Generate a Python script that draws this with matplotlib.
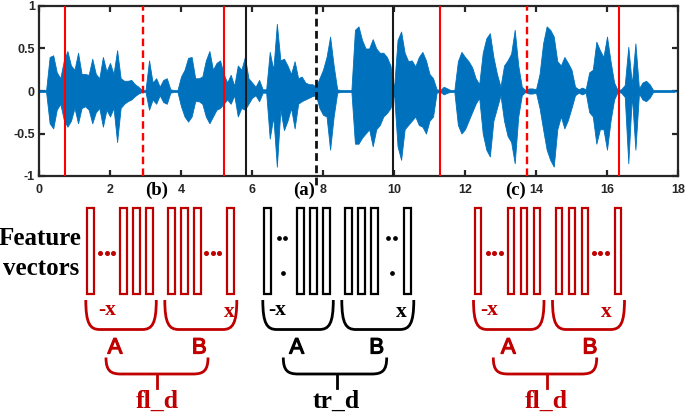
import numpy as np
import matplotlib
matplotlib.use("Agg")
import matplotlib.pyplot as plt
import matplotlib.patheffects as pe
from matplotlib.patches import Rectangle, PathPatch
from matplotlib.path import Path

plt.rcParams['axes.unicode_minus'] = False

# ---------------- data ----------------
# waveform envelope, one value every 0.1 s starting at 0.0 s
env_top = [0.01, 0.01, 0.01, 0.40, 0.42, 0.22, 0.15, 0.36, 0.47, 0.30,
           0.25, 0.45, 0.20, 0.20, 0.19, 0.38, 0.20, 0.15, 0.40, 0.23,
           0.33, 0.20, 0.48, 0.15, 0.12, 0.12, 0.13, 0.08, 0.05, 0.01,
           0.01, 0.36, 0.10, 0.15, 0.05, 0.13, 0.15, 0.02, 0.01, 0.01,
           0.17, 0.25, 0.39, 0.40, 0.15, 0.15, 0.17, 0.36, 0.47, 0.25,
           0.33, 0.36, 0.20, 0.10, 0.19, 0.06, 0.30, 0.25, 0.40, 0.15,
           0.10, 0.05, 0.13, 0.02, 0.02, 0.46, 0.25, 0.79, 0.36, 0.38,
           0.30, 0.20, 0.35, 0.15, 0.17, 0.10, 0.08, 0.08, 0.05, 0.15,
           0.25, 0.40, 0.64, 0.30, 0.02, 0.01, 0.01, 0.01, 0.01, 0.72,
           0.76, 0.60, 0.50, 0.50, 0.61, 0.50, 0.45, 0.45, 0.40, 0.30,
           0.03, 0.60, 0.70, 0.45, 0.35, 0.36, 0.29, 0.40, 0.46, 0.36,
           0.20, 0.15, 0.02, 0.01, 0.05, 0.03, 0.01, 0.01, 0.35, 0.46,
           0.40, 0.35, 0.28, 0.15, 0.08, 0.45, 0.62, 0.68, 0.40, 0.20,
           0.05, 0.30, 0.36, 0.44, 0.72, 0.30, 0.05, 0.01, 0.03, 0.03,
           0.02, 0.20, 0.56, 0.76, 0.72, 0.64, 0.35, 0.30, 0.40, 0.33,
           0.25, 0.05, 0.02, 0.04, 0.02, 0.22, 0.25, 0.58, 0.48, 0.40,
           0.64, 0.35, 0.10, 0.01, 0.02, 0.07, 0.52, 0.08, 0.56, 0.03,
           0.10, 0.12, 0.08, 0.01, 0.01, 0.01, 0.01, 0.01, 0.01, 0.01]
env_bot = [0.01, 0.01, 0.01, 0.38, 0.44, 0.22, 0.15, 0.34, 0.42, 0.35,
           0.20, 0.38, 0.20, 0.18, 0.22, 0.38, 0.25, 0.20, 0.42, 0.22,
           0.30, 0.20, 0.60, 0.20, 0.15, 0.12, 0.10, 0.06, 0.03, 0.01,
           0.01, 0.22, 0.10, 0.15, 0.05, 0.13, 0.15, 0.02, 0.01, 0.01,
           0.18, 0.30, 0.36, 0.30, 0.12, 0.12, 0.15, 0.30, 0.38, 0.30,
           0.22, 0.20, 0.15, 0.10, 0.15, 0.05, 0.30, 0.20, 0.22, 0.15,
           0.08, 0.05, 0.12, 0.02, 0.02, 0.56, 0.30, 0.89, 0.22, 0.46,
           0.35, 0.20, 0.44, 0.15, 0.12, 0.10, 0.08, 0.06, 0.05, 0.20,
           0.28, 0.30, 0.69, 0.30, 0.02, 0.01, 0.01, 0.01, 0.01, 0.62,
           0.62, 0.55, 0.50, 0.45, 0.65, 0.45, 0.40, 0.30, 0.26, 0.20,
           0.03, 0.65, 0.81, 0.45, 0.40, 0.35, 0.30, 0.40, 0.42, 0.50,
           0.35, 0.30, 0.02, 0.01, 0.04, 0.02, 0.01, 0.01, 0.40, 0.50,
           0.45, 0.35, 0.25, 0.15, 0.08, 0.50, 0.69, 0.77, 0.35, 0.20,
           0.05, 0.35, 0.53, 0.60, 0.85, 0.30, 0.05, 0.01, 0.03, 0.03,
           0.02, 0.20, 0.45, 0.69, 0.81, 0.89, 0.45, 0.30, 0.44, 0.34,
           0.20, 0.05, 0.02, 0.04, 0.02, 0.25, 0.30, 0.62, 0.45, 0.45,
           0.69, 0.35, 0.10, 0.01, 0.02, 0.07, 0.85, 0.05, 0.69, 0.03,
           0.10, 0.12, 0.08, 0.01, 0.01, 0.01, 0.01, 0.01, 0.01, 0.01]
sample_step = 0.1

# segment boundaries (seconds)
red_solid = [0.72, 5.22, 11.30, 16.33]
red_dashed = [2.92, 13.75]
black_solid = [5.84, 9.98]
black_dashed = [7.80]

xticks = [0, 2, 4, 6, 8, 10, 12, 14, 16, 18]
yticks = [-1, -0.5, 0, 0.5, 1]
ytick_labels = ['-1', '-0.5', '0', '0.5', '1']

# ---------------- figure ----------------
W, H = 685, 417
fig = plt.figure(figsize=(W / 100, H / 100), dpi=100)
ax = fig.add_axes([39 / W, 1 - 176 / H, (678 - 39) / W, (176 - 6) / H])

t = np.arange(len(env_top)) * sample_step
top = np.array(env_top)
bot = -np.array(env_bot)
blue = '#0072BD'
ax.fill_between(t, bot, top, color=blue, lw=0.6, edgecolor=blue, zorder=2)
ax.axhline(0, color=blue, lw=1.0, zorder=2)

for x in red_solid:
    ax.axvline(x, color='#FF0000', lw=1.5, zorder=3)
for x in red_dashed:
    ax.axvline(x, color='#FF0000', lw=1.7, ls=(0, (3.2, 1.8)), zorder=3)
for x in black_solid:
    ax.axvline(x, color='#1a1a1a', lw=1.5, zorder=3)
for x in black_dashed:
    ax.plot([x, x], [1, -1.1], color='#111111', lw=2.0, ls=(0, (2.8, 1.6)),
            zorder=3, clip_on=False)

ax.set_xlim(0, 18)
ax.set_ylim(-1, 1)
ax.set_xticks(xticks)
ax.set_xticklabels([str(v) for v in xticks])
ax.set_yticks(yticks)
ax.set_yticklabels(ytick_labels)
ax.tick_params(direction='in', length=4, width=1.6, top=True, right=True,
               colors='#262626', labelsize=9)
ax.tick_params(axis='x', pad=5.5)
ax.tick_params(axis='y', pad=3)
for lab in ax.get_xticklabels() + ax.get_yticklabels():
    lab.set_fontweight('bold')
    lab.set_fontfamily('Liberation Sans')
for s in ax.spines.values():
    s.set_linewidth(1.6)
    s.set_color('#262626')

# ---------------- diagram overlay (pixel coordinates) ----------------
ov = fig.add_axes([0, 0, 1, 1], zorder=5)
ov.set_xlim(0, W)
ov.set_ylim(H, 0)
ov.axis('off')
ov.patch.set_alpha(0)

RED = '#C00000'
BLK = '#000000'
serif = 'Liberation Serif'

rect_offsets = [0, 33, 46, 59, 81, 94, 107, 140]
groups = [
    dict(x0=86.3, c=RED, mx=107.5, px=229.5, A=115.0, B=199.3, b2=(106, 208), stem=157.0, lab='fl_d', dots='h'),
    dict(x0=263.3, c=BLK, mx=277.5, px=401.7, A=296.7, B=376.7, b2=(283.3, 386.7), stem=336.7, lab='tr_d', dots='v'),
    dict(x0=474.0, c=RED, mx=489.0, px=606.0, A=508.3, B=590.0, b2=(493.3, 596.7), stem=546.7, lab='fl_d', dots='h'),
]


def bracket(x0, x1, ytop, ybot, r, color, lw):
    h = ybot - ytop
    verts = [(x0, ytop), (x0, ytop + 0.8 * h), (x0 + 0.3 * r, ybot), (x0 + r, ybot),
             (x1 - r, ybot),
             (x1 - 0.3 * r, ybot), (x1, ytop + 0.8 * h), (x1, ytop)]
    codes = [Path.MOVETO, Path.CURVE4, Path.CURVE4, Path.CURVE4, Path.LINETO,
             Path.CURVE4, Path.CURVE4, Path.CURVE4]
    ov.add_patch(PathPatch(Path(verts, codes), fill=False, ec=color, lw=lw,
                           capstyle='butt'))


for g in groups:
    x0, c = g['x0'], g['c']
    thick = [pe.withStroke(linewidth=0.9, foreground=c)]
    for off in rect_offsets:
        ov.add_patch(Rectangle((x0 + off + 1, 207.5), 6.3, 86.5, fill=False,
                               ec=c, lw=1.6))
    if g['dots'] == 'h':
        ov.plot([x0 + 14, x0 + 20.5, x0 + 27], [252.7] * 3, 'o', ms=2.6, color=c, mec=c)
        ov.plot([x0 + 120, x0 + 126.5, x0 + 133], [252.7] * 3, 'o', ms=2.6, color=c, mec=c)
    else:
        ov.plot([x0 + 16, x0 + 21.7], [237.7] * 2, 'o', ms=2.4, color=c, mec=c)
        ov.plot([x0 + 20], [273.3], 'o', ms=2.4, color=c, mec=c)
        ov.plot([x0 + 124.4, x0 + 131.7], [237.7] * 2, 'o', ms=2.4, color=c, mec=c)
        ov.plot([x0 + 128.4], [273.3], 'o', ms=2.4, color=c, mec=c)
    bracket(x0 - 0.5, x0 + 70, 300, 329.5, 14, c, 2.0)
    bracket(x0 + 78.5, x0 + 150.5, 300, 329.5, 14, c, 2.0)
    ov.text(g['mx'], 315, '-x', color=c, fontsize=15.5, fontweight='bold',
            family=serif, ha='center', va='baseline')
    ov.text(g['px'], 317, 'x', color=c, fontsize=15.5, fontweight='bold',
            family=serif, ha='center', va='baseline')
    ov.text(g['A'], 353.5, 'A', color=c, fontsize=16, family='Liberation Sans',
            ha='center', va='baseline', path_effects=thick)
    ov.text(g['B'], 353.5, 'B', color=c, fontsize=16, family='Liberation Sans',
            ha='center', va='baseline', path_effects=thick)
    bracket(g['b2'][0], g['b2'][1], 357.5, 374, 15, c, 2.0)
    ov.plot([g['stem'], g['stem']], [374, 388], color=c, lw=2.0)
    ov.text(g['stem'], 408, g['lab'], color=c, fontsize=18.5, fontweight='bold',
            family=serif, ha='center', va='baseline')

ov.text(40, 245, 'Feature', fontsize=18, fontweight='bold', family=serif,
        ha='center', va='baseline', color=BLK)
ov.text(41, 275, 'vectors', fontsize=18, fontweight='bold', family=serif,
        ha='center', va='baseline', color=BLK)

for lab, xc in [('(b)', 156.7), ('(a)', 304.0), ('(c)', 515.5)]:
    ov.text(xc, 195, lab, fontsize=13.5, fontweight='bold', family=serif,
            ha='center', va='baseline', color=BLK)

fig.savefig('out.png', dpi=100)
